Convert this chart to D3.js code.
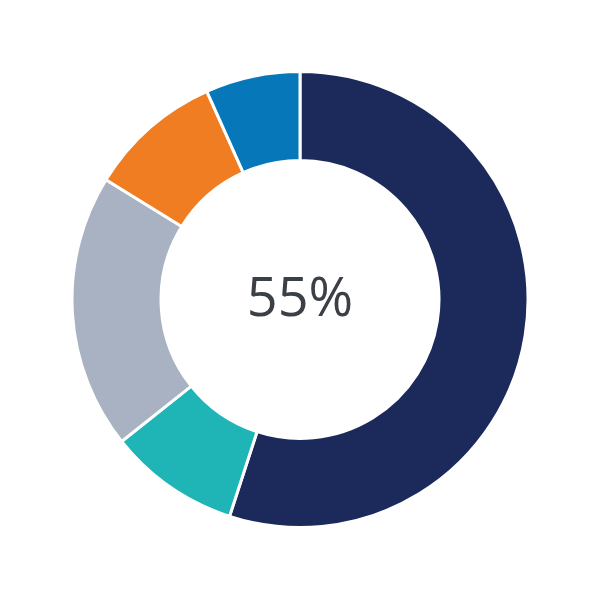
<!DOCTYPE html>
<html>
<head>
<meta charset="utf-8">
<script src="https://cdn.jsdelivr.net/npm/d3@7"></script>
<style>
  body { margin: 0; background: #fff; }
</style>
</head>
<body>
<div class="chart"></div>
<script>
const width = 600, height = 600

// slices, clockwise from 12 o'clock
const labels = ['A', 'B', 'C', 'D', 'E']
const values = [55, 9.3, 19.5, 9.5, 6.7]
const colors = ['#1b2a5a', '#1fb5b7', '#a8b2c2', '#f07d21', '#0677b8']
const centerLabel = '55%'

const svg = d3.select('.chart').append('svg')
    .attr('width', width)
    .attr('height', height)

const g = svg.append('g')
    .attr('transform', 'translate(' + 300 + ',' + 299.5 + ')')

const pie = d3.pie().sort(null).value(d => d.value)
const arc = d3.arc().innerRadius(139).outerRadius(228)

const data = labels.map((l, i) => ({ label: l, value: values[i] }))

g.selectAll('path')
    .data(pie(data))
    .enter().append('path')
    .attr('d', arc)
    .attr('fill', (d, i) => colors[i])
    .attr('stroke', '#fff')
    .attr('stroke-width', 3)

g.append('text')
    .text(centerLabel)
    .attr('y', -2)
    .attr('dy', '0.35em')
    .style('text-anchor', 'middle')
    .style('font-family', '"Open Sans", "Noto Sans", sans-serif')
    .style('font-size', '54px')
    .style('fill', '#3b3f46')
</script>
</body>
</html>
